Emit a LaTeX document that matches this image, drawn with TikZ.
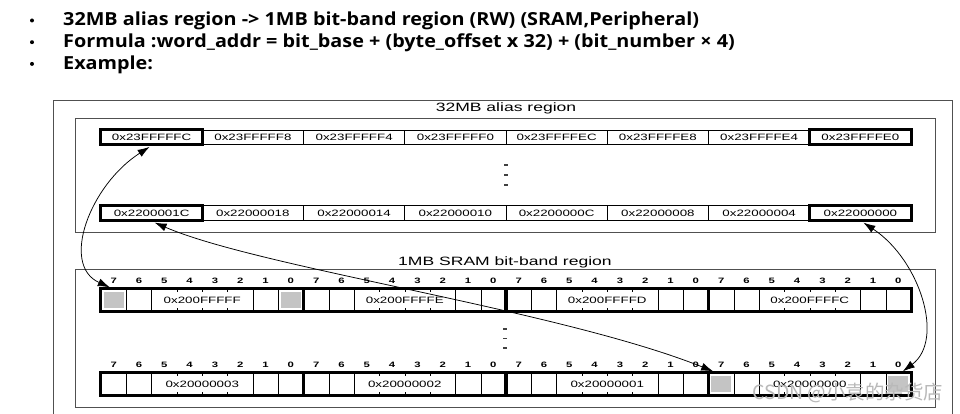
\documentclass[tikz,border=0pt]{standalone}
\usepackage{fontspec}
\usetikzlibrary{arrows.meta,calc}
\newfontfamily\bulletfont[FakeStretch=1.1]{Open Sans}
\newfontfamily\diagfont[FakeStretch=1.45]{Liberation Sans}
\newfontfamily\wmfont{Noto Sans CJK SC}
\definecolor{cellgray}{HTML}{C4C4C4}
\definecolor{framegray}{HTML}{505050}
\pgfdeclarelayer{behind}
\pgfsetlayers{behind,main}
\begin{document}
\begin{tikzpicture}[x=1pt,y=-1pt,
  acell/.style={draw=black, line width=0.7pt, fill=white, inner sep=0pt, minimum width=101.25pt, minimum height=14.5pt, font=\diagfont\fontsize{9.2}{10}\selectfont},
  bitcell/.style={inner sep=0pt, minimum width=25.3125pt, minimum height=22pt, fill=white},
  bitlab/.style={inner sep=0pt, font=\diagfont\bfseries\fontsize{7.8}{8}\selectfont},
  addr/.style={inner sep=0pt, font=\diagfont\fontsize{9.2}{10}\selectfont},
  rtitle/.style={inner sep=0pt, font=\diagfont\fontsize{12.1}{13}\selectfont},
  frame/.style={draw=framegray, line width=0.8pt},
  thickbox/.style={line width=3pt},
  thinline/.style={line width=0.7pt},
  link/.style={line width=0.75pt, {Latex[length=12pt,width=8pt]}-{Latex[length=12pt,width=8pt]}},
  dotmark/.style={fill=black!75, inner sep=0pt, minimum width=3.5pt, minimum height=1.8pt},
  bul/.style={anchor=base west, inner sep=0pt, font=\bulletfont\bfseries\fontsize{18}{20}\selectfont},
  bdot/.style={circle, fill=black, inner sep=0pt, minimum size=4pt},
]
\useasboundingbox (0,0) rectangle (960,414);
\fill[white] (0,0) rectangle (960,414);

% bullet lines
\node[bdot] (k1) at (32,20.5) {};
\node[bdot] (k2) at (32,42.2) {};
\node[bdot] (k3) at (32,63.9) {};
\node[bul] (b1) at (63,26) {32MB alias region -> 1MB bit-band region (RW) (SRAM,Peripheral)};
\node[bul] (b2) at (63,47.7) {Formula :word\_addr = bit\_base + (byte\_offset x 32) + (bit\_number × 4)};
\node[bul] (b3) at (63,69.4) {Example:};

% frames
\draw[frame] (53,420) -- (53,100) -- (952,100) -- (952,420);
\draw[frame] (75,118) rectangle (935,232);
\draw[frame] (75,269) rectangle (935,407.5);
\node[rtitle] (ta) at (506,108.5) {32MB alias region};
\node[rtitle] (tb) at (505,262.5) {1MB SRAM bit-band region};

% alias rows
\foreach \i/\t in {0/0x23FFFFFC,1/0x23FFFFF8,2/0x23FFFFF4,3/0x23FFFFF0,4/0x23FFFFEC,5/0x23FFFFE8,6/0x23FFFFE4,7/0x23FFFFE0}
  \node[acell] (t\i) at ({151.625+101.25*\i},137.25) {\t};
\foreach \i/\t in {0/0x2200001C,1/0x22000018,2/0x22000014,3/0x22000010,4/0x2200000C,5/0x22000008,6/0x22000004,7/0x22000000}
  \node[acell] (u\i) at ({151.625+101.25*\i},213) {\t};
\foreach \c in {t0,t7,u0,u7}
  \draw[line width=2.8pt] (\c.north west) rectangle (\c.south east);

\foreach \n/\y in {1/165.3,2/175.3,3/185.3} \node[dotmark] (da\n) at (506,\y) {};
\foreach \n/\y in {1/329,2/338.5,3/348} \node[dotmark] (db\n) at (505,\y) {};

% bit rows
\foreach \row/\yc in {p/300,q/384}{
  \foreach \b in {0,1,2,3}{
    \foreach \k in {0,...,7}{
      \node[bitcell] (\row\b-\k) at ({101+25.3125*(8*\b+7-\k)+12.65625},\yc) {};
      \node[bitlab] (l\row\b-\k) at ($(\row\b-\k.north)+(0,-7.7)$) {\k};
    }
  }
}
\foreach \c in {p0-7,p0-0,q3-7,q3-0}
  \fill[cellgray] ($(\c.north west)+(2.8,2.8)$) rectangle ($(\c.south east)+(-2.8,-2.8)$);
\foreach \row in {p,q}{
  \foreach \b in {0,1,2,3}{
    \foreach \k in {7,6,2,1}
      \draw[thinline] (\row\b-\k.north east) -- (\row\b-\k.south east);
    \foreach \k in {5,4,3}{
      \draw[thinline] (\row\b-\k.north east) -- ++(0,3.5);
      \draw[thinline] (\row\b-\k.south east) -- ++(0,-3.5);
    }
    \draw[thickbox] (\row\b-7.north west) rectangle (\row\b-0.south east);
  }
}
\foreach \b/\t in {0/0x200FFFFF,1/0x200FFFFE,2/0x200FFFFD,3/0x200FFFFC}
  \node[addr] (ap\b) at ($(p\b-5.west)!0.5!(p\b-2.east)$) {\t};
\foreach \b/\t in {0/0x20000003,1/0x20000002,2/0x20000001,3/0x20000000}
  \node[addr] (aq\b) at ($(q\b-5.west)!0.5!(q\b-2.east)$) {\t};

% connectors
\begin{pgfonlayer}{behind}
\draw[link] ($(p0-0.north)+(2,-1.5)$) .. controls (350,245) and (650,192) .. ($(t7.south)+(-3,2)$);
\end{pgfonlayer}
\draw[link] ($(t0.south)+(-2,2)$) .. controls (90,185) and (60,265) .. ($(p0-7.north west)+(9,-1.5)$);
\draw[link] ($(u0.south)+(3,2)$) .. controls (260,268) and (560,310) .. ($(q3-7.north)+(-8,-1.5)$);
\draw[link] ($(u7.south)+(3,2)$) .. controls (920,260) and (945,340) .. ($(q3-0.north)+(4.5,-1.5)$);

% watermark
\node[font=\wmfont\fontsize{19.5}{20}\selectfont, text=gray!55, inner sep=0pt] (wm) at (848,393) {CSDN @小袁的杂货店};
\end{tikzpicture}
\end{document}
